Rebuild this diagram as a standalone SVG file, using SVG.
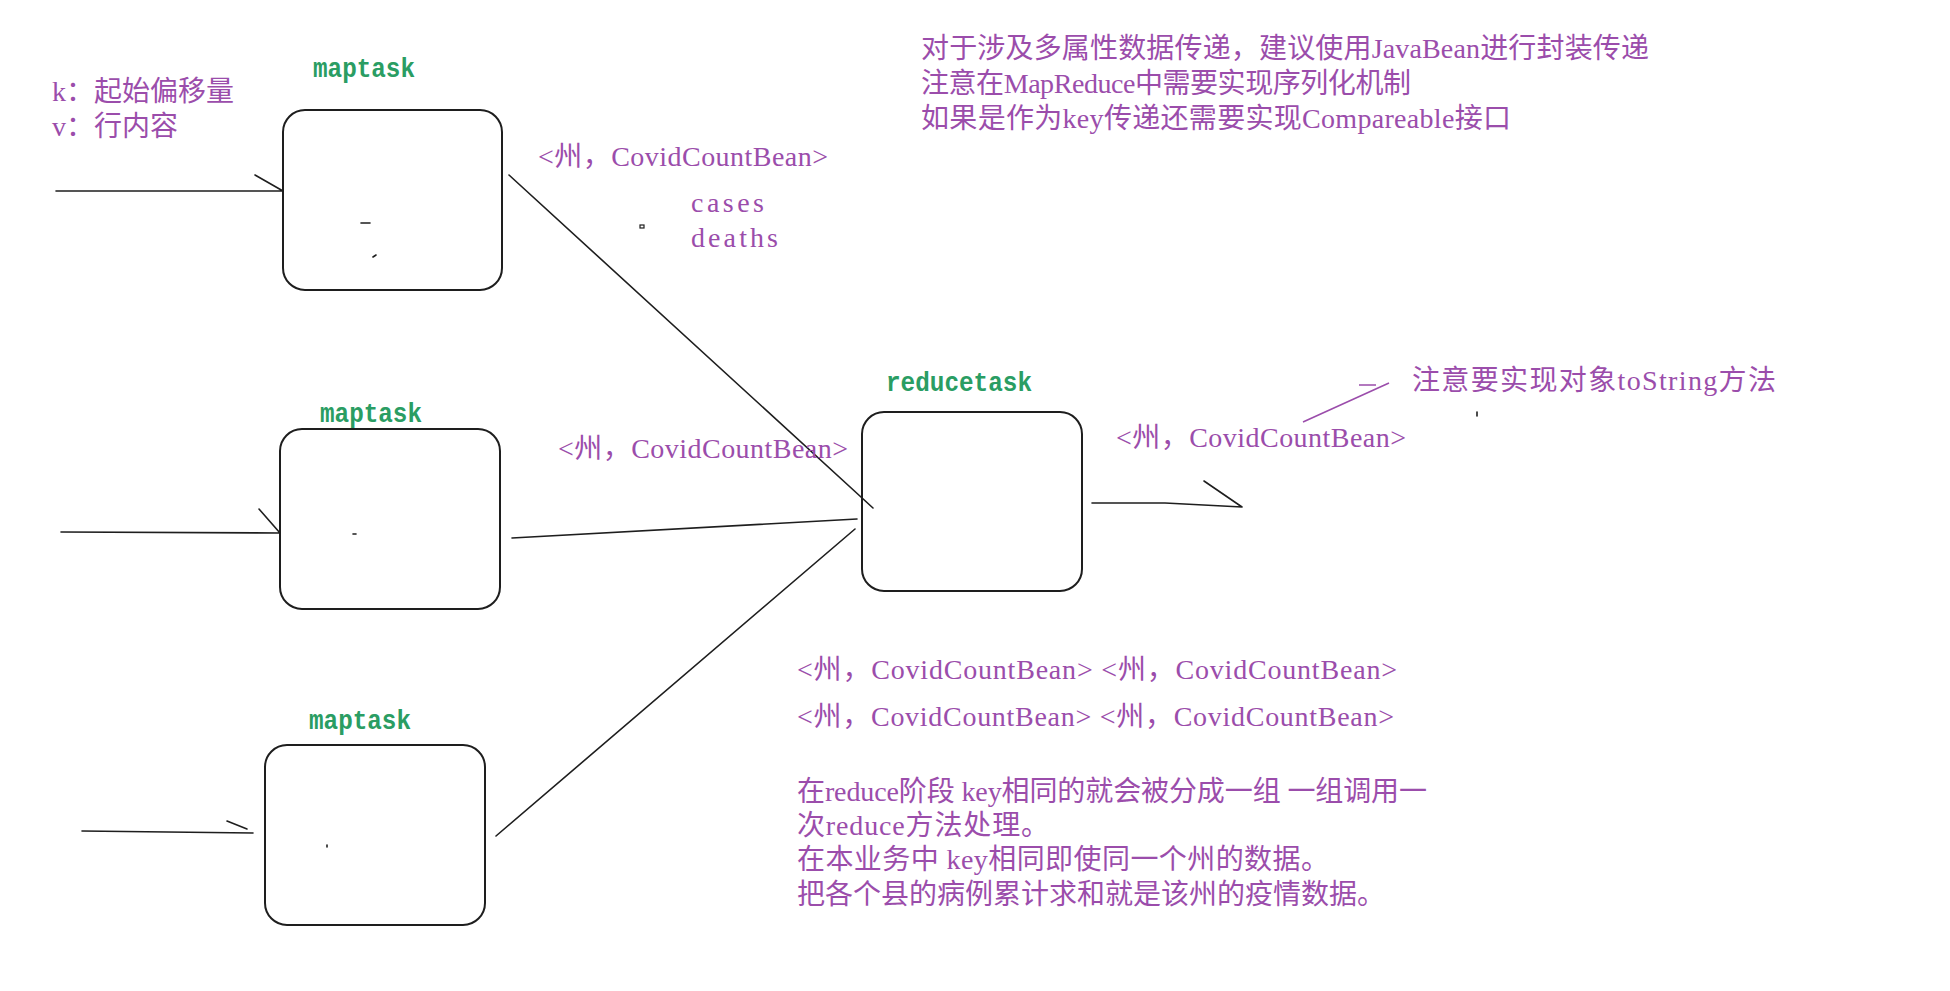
<svg xmlns="http://www.w3.org/2000/svg" width="1950" height="991" viewBox="0 0 1950 991">
<style>
.box{fill:none;stroke:#1e1e1e;stroke-width:2}
.ln{fill:none;stroke:#1e1e1e;stroke-width:1.6;stroke-linecap:round}
.pl{fill:none;stroke:#9b4dab;stroke-width:1.6}
.g{font-family:"Liberation Mono",monospace;font-size:27px;font-weight:bold;fill:#2a9d63}
.p{font-family:"Liberation Serif","Noto Sans CJK SC",serif;font-size:28px;fill:#9b4dab}
</style>
<rect width="1950" height="991" fill="#ffffff"/>
<g id="maptask1">
<rect class="box" x="283" y="110" width="219" height="180" rx="22"/>
<text class="g" x="313" y="77" textLength="102" lengthAdjust="spacingAndGlyphs">maptask</text>
<line class="ln" x1="361" y1="223" x2="370" y2="223"/>
<line class="ln" x1="373" y1="257" x2="376" y2="255"/>
</g>
<g id="maptask2">
<rect class="box" x="280" y="429" width="220" height="180" rx="22"/>
<text class="g" x="320" y="422" textLength="102" lengthAdjust="spacingAndGlyphs">maptask</text>
<line class="ln" x1="353" y1="534" x2="356" y2="534"/>
</g>
<g id="maptask3">
<rect class="box" x="265" y="745" width="220" height="180" rx="22"/>
<text class="g" x="309" y="729" textLength="102" lengthAdjust="spacingAndGlyphs">maptask</text>
<line class="ln" x1="327" y1="845" x2="327" y2="847"/>
</g>
<g id="reducetask">
<rect class="box" x="862" y="412" width="220" height="179" rx="22"/>
<text class="g" x="886" y="391" textLength="146" lengthAdjust="spacingAndGlyphs">reducetask</text>
</g>
<g id="connectors">
<path class="ln" d="M56,191 L283,191 M255,175 L283,191"/>
<path class="ln" d="M61,532 L280,533 M259,509 L280,533"/>
<path class="ln" d="M82,831 L253,833 M227,821 L247,829"/>
<path class="ln" d="M509,175 L873,508"/>
<path class="ln" d="M512,538 L857,519"/>
<path class="ln" d="M496,836 L855,529"/>
<path class="ln" d="M1092,503 L1165,503 L1242,507 M1204,481 L1242,507"/>
<path class="pl" d="M1303,422 L1389,383 M1359,385 L1376,385"/>
</g>
<rect x="640" y="225" width="4" height="3" fill="none" stroke="#1e1e1e" stroke-width="1.2"/>
<line class="ln" x1="1477" y1="412" x2="1477" y2="416"/>
<text class="p" x="52" y="101" textLength="182" lengthAdjust="spacing">k：起始偏移量</text>
<text class="p" x="52" y="136" textLength="126" lengthAdjust="spacing">v：行内容</text>
<text class="p" x="538" y="166" textLength="290" lengthAdjust="spacing">&lt;州，CovidCountBean&gt;</text>
<text class="p" x="691" y="212" textLength="73" lengthAdjust="spacing">cases</text>
<text class="p" x="691" y="247" textLength="87" lengthAdjust="spacing">deaths</text>
<text class="p" x="558" y="458" textLength="290" lengthAdjust="spacing">&lt;州，CovidCountBean&gt;</text>
<text class="p" x="1116" y="447" textLength="290" lengthAdjust="spacing">&lt;州，CovidCountBean&gt;</text>
<text class="p" x="1412" y="390" textLength="364" lengthAdjust="spacing">注意要实现对象toString方法</text>
<text class="p" x="921" y="58" textLength="728" lengthAdjust="spacing">对于涉及多属性数据传递，建议使用JavaBean进行封装传递</text>
<text class="p" x="921" y="93" textLength="490" lengthAdjust="spacing">注意在MapReduce中需要实现序列化机制</text>
<text class="p" x="921" y="128" textLength="590" lengthAdjust="spacing">如果是作为key传递还需要实现Compareable接口</text>
<text class="p" x="797" y="679" textLength="600" lengthAdjust="spacing">&lt;州，CovidCountBean&gt; &lt;州，CovidCountBean&gt;</text>
<text class="p" x="797" y="726" textLength="597" lengthAdjust="spacing">&lt;州，CovidCountBean&gt; &lt;州，CovidCountBean&gt;</text>
<text class="p" x="797" y="801" textLength="630" lengthAdjust="spacing">在reduce阶段 key相同的就会被分成一组 一组调用一</text>
<text class="p" x="797" y="835" textLength="252" lengthAdjust="spacing">次reduce方法处理。</text>
<text class="p" x="797" y="869" textLength="532" lengthAdjust="spacing">在本业务中 key相同即使同一个州的数据。</text>
<text class="p" x="797" y="904" textLength="588" lengthAdjust="spacing">把各个县的病例累计求和就是该州的疫情数据。</text>
</svg>
